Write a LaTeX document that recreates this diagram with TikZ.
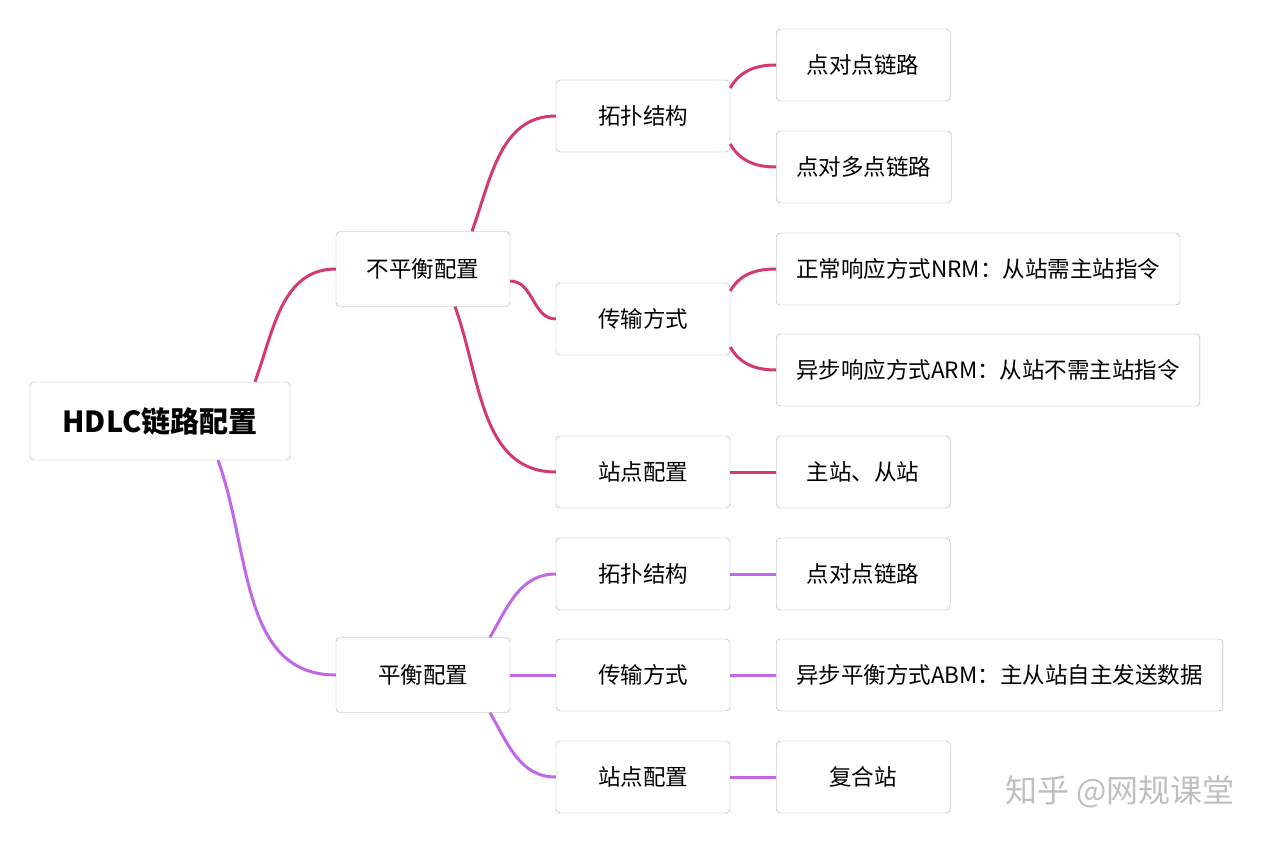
\documentclass[tikz,border=0pt]{standalone}
\usepackage{fontspec}
\setmainfont{Noto Sans CJK SC}
\usetikzlibrary{positioning}
\definecolor{unbal}{HTML}{D23B6B}
\definecolor{bal}{HTML}{C267E6}
\tikzset{
  box/.style={draw=black!35, rounded corners=4pt, fill=white, minimum height=72pt, inner xsep=20pt, font=\fontsize{22.5}{26}\selectfont},
  lvl/.style={box, minimum width=174pt},
  leaf/.style={box, minimum width=174pt, anchor=west},
  link/.style={line width=3pt}
}
\begin{document}
\begin{tikzpicture}[x=1pt,y=-1pt]
\useasboundingbox (0,0) rectangle (1267,843);
% root
\node[box, minimum width=260pt, minimum height=78pt, font=\fontsize{29}{32}\selectfont\bfseries] (root) at (160,421) {HDLC链路配置};
\node[lvl, minimum height=75pt] (ub) at (423,269) {不平衡配置};
\node[lvl, minimum height=75pt] (b) at (423,675) {平衡配置};
% second level
\node[lvl] (ubtop) at (643,116) {拓扑结构};
\node[lvl] (ubtx) at (643,319) {传输方式};
\node[lvl] (ubst) at (643,472) {站点配置};
\node[lvl] (btop) at (643,574) {拓扑结构};
\node[lvl] (btx) at (643,675) {传输方式};
\node[lvl] (bst) at (643,777) {站点配置};
% leaves
\node[leaf] (p2p) at (776,65) {点对点链路};
\node[leaf] (p2m) at (776,167) {点对多点链路};
\node[leaf] (nrm) at (776,269) {正常响应方式NRM：从站需主站指令};
\node[leaf] (arm) at (776,370) {异步响应方式ARM：从站不需主站指令};
\node[leaf] (ms) at (776,472) {主站、从站};
\node[leaf] (bp2p) at (776,574) {点对点链路};
\node[leaf] (abm) at (776,675) {异步平衡方式ABM：主从站自主发送数据};
\node[leaf] (comp) at (776,777) {复合站};
% watermark
\node[text=black!25, font=\fontsize{32}{36}\selectfont, anchor=east] (wm) at (1238,792) {知乎 @网规课堂};
% connectors
\begin{scope}[link, draw=unbal]
\draw ([xshift=95pt]root.north) to[out=70,in=180] (ub.west);
\draw ([xshift=49pt]ub.north) to[out=70,in=180] (ubtop.west);
\draw ([yshift=-12pt]ub.east) to[out=0,in=180] (ubtx.west);
\draw ([xshift=32pt]ub.south) to[out=-70,in=180] (ubst.west);
\draw ([yshift=28pt]ubtop.east) to[out=60,in=180] (p2p.west);
\draw ([yshift=-28pt]ubtop.east) to[out=-60,in=180] (p2m.west);
\draw ([yshift=28pt]ubtx.east) to[out=60,in=180] (nrm.west);
\draw ([yshift=-28pt]ubtx.east) to[out=-60,in=180] (arm.west);
\draw (ubst.east) -- (ms.west);
\end{scope}
\begin{scope}[link, draw=bal]
\draw ([xshift=58pt]root.south) to[out=-70,in=180] (b.west);
\draw ([xshift=67pt]b.north) to[out=60,in=180] (btop.west);
\draw (b.east) -- (btx.west);
\draw ([xshift=67pt]b.south) to[out=-60,in=180] (bst.west);
\draw (btop.east) -- (bp2p.west);
\draw (btx.east) -- (abm.west);
\draw (bst.east) -- (comp.west);
\end{scope}
\end{tikzpicture}
\end{document}
